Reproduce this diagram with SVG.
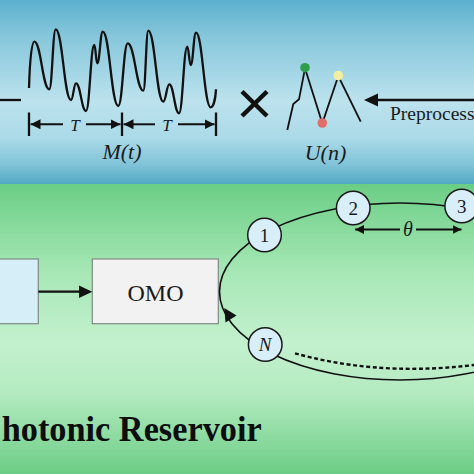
<svg xmlns="http://www.w3.org/2000/svg" width="474" height="474" viewBox="0 0 474 474">
<defs>
<linearGradient id="gBlue" x1="0" y1="0" x2="0" y2="1">
<stop offset="0" stop-color="#5cb0cd"/>
<stop offset="0.2" stop-color="#86c7db"/>
<stop offset="0.55" stop-color="#bce2ed"/>
<stop offset="0.75" stop-color="#abdae8"/>
<stop offset="0.9" stop-color="#7fc2d7"/>
<stop offset="1" stop-color="#52a9c4"/>
</linearGradient>
<linearGradient id="gGreen" x1="0" y1="0" x2="0" y2="1">
<stop offset="0" stop-color="#6bce85"/>
<stop offset="0.3" stop-color="#a6e7b5"/>
<stop offset="0.55" stop-color="#c3f1ce"/>
<stop offset="0.72" stop-color="#b4ebc0"/>
<stop offset="1" stop-color="#6ccd86"/>
</linearGradient>
<marker id="ah" viewBox="0 0 10 10" refX="10" refY="5" markerWidth="5" markerHeight="5" orient="auto-start-reverse" markerUnits="strokeWidth">
<path d="M0,0 L10,5 L0,10 Z" fill="#111"/>
</marker>
</defs>
<style>
.ln{fill:none;stroke:#111;stroke-width:2.3}
.thin{fill:none;stroke:#111;stroke-width:1.6}
.it{font-family:"Liberation Serif","Times New Roman",serif;font-style:italic;fill:#1a1a1a}
.rm{font-family:"Liberation Serif","Times New Roman",serif;fill:#1a1a1a}
.node circle{fill:#d8eef9;stroke:#1a1a1a;stroke-width:1.5}
.node text{font-family:"Liberation Serif","Times New Roman",serif;font-size:19px;fill:#1a1a1a;text-anchor:middle}
.box{stroke:#808a84;stroke-width:1.2}
</style>
<rect x="0" y="0" width="474" height="184" fill="url(#gBlue)"/>
<rect x="0" y="184" width="474" height="290" fill="url(#gGreen)"/>

<g id="input-line"><line class="ln" x1="0" y1="100" x2="21" y2="100"/></g>

<g id="waveform">
<path class="ln" d="M29,88 C30,55 32,41.7 34.3,41.7 C41.05,41.7 42.55,89.3 49.3,89.3 C52.18,89.3 52.82,29.3 55.7,29.3 C62.6,29.3 64.1,100 71,100 C73.25,100 73.75,83.3 76,83.3 C80.5,83.3 81.5,111 86,111 C89.7,111 90.6,45 94.3,45 C95.65,45 95.95,63.3 97.3,63.3 C99.7,63.3 100.3,31.7 102.7,31.7 C109.7,31.7 111.3,106 118.3,106 C122.5,106 123.5,43.3 127.7,43.3 C134.7,43.3 136.3,90.7 143.3,90.7 C145.55,90.7 146.05,30.7 148.3,30.7 C155,30.7 156.5,101.7 163.3,101.7 C166,101.7 166.6,84.3 169.3,84.3 C173.7,84.3 174.6,113.3 179,113.3 C182.7,113.3 183.6,46.7 187.3,46.7 C188.8,46.7 189.2,65 190.7,65 C193.1,65 193.6,32.7 196,32.7 C202.6,32.7 204.1,107.3 210.7,107.3 C213.5,107.3 215.5,98 216,89.3"/>
</g>

<g id="period-marks">
<line class="ln" x1="29" y1="112.5" x2="29" y2="136"/>
<line class="ln" x1="122" y1="112.5" x2="122" y2="136"/>
<line class="ln" x1="216" y1="112.5" x2="216" y2="136"/>
<line class="thin" x1="63" y1="124.3" x2="30.5" y2="124.3" marker-end="url(#ah)" style="stroke-width:2"/>
<line class="thin" x1="86" y1="124.3" x2="120.5" y2="124.3" marker-end="url(#ah)" style="stroke-width:2"/>
<line class="thin" x1="155" y1="124.3" x2="123.5" y2="124.3" marker-end="url(#ah)" style="stroke-width:2"/>
<line class="thin" x1="178" y1="124.3" x2="214.5" y2="124.3" marker-end="url(#ah)" style="stroke-width:2"/>
<text class="it" x="75" y="130.5" font-size="17" text-anchor="middle">T</text>
<text class="it" x="167" y="130.5" font-size="17" text-anchor="middle">T</text>
<text class="it" x="122" y="159" font-size="22" text-anchor="middle">M(t)</text>
</g>

<g id="times">
<line x1="242" y1="91.5" x2="267" y2="116" stroke="#111" stroke-width="4.5"/>
<line x1="242" y1="116" x2="267" y2="91.5" stroke="#111" stroke-width="4.5"/>
</g>

<g id="mask">
<polyline class="ln" points="287.3,130 293.3,104 299,99.3 305,68.3 322.3,123.3 338.3,76 360.7,121.7" style="stroke-width:1.8"/>
<circle cx="305" cy="67.7" r="4.8" fill="#2f9d4c"/>
<circle cx="338.3" cy="75.5" r="4.8" fill="#f3efa0"/>
<circle cx="322.3" cy="123" r="4.8" fill="#df6e6c"/>
<text class="it" x="325.5" y="160" font-size="22" text-anchor="middle">U(n)</text>
</g>

<g id="preprocess">
<line class="ln" x1="474" y1="100" x2="376" y2="100"/>
<path d="M364,100 L378,93.5 L378,106.5 Z" fill="#111"/>
<text class="rm" x="390" y="119.5" font-size="19.5">Preprocess</text>
</g>

<g id="input-box"><rect class="box" x="-2" y="259" width="40.3" height="64.7" fill="#d6eef8"/></g>

<g id="omo">
<rect class="box" x="92.3" y="259" width="126" height="64.7" fill="#f2f2f2"/>
<text class="rm" x="155.5" y="300.5" font-size="24" text-anchor="middle">OMO</text>
</g>

<g id="connectors">
<line class="ln" x1="38.3" y1="291.7" x2="80" y2="291.7"/>
<path d="M92.3,291.7 L79,285.5 L79,298 Z" fill="#111"/>
<ellipse cx="400" cy="291.5" rx="180.5" ry="88.5" fill="none" stroke="#111" stroke-width="1.6"/>
<path d="M224.3,308 L225.5,322.5 L236.5,315.5 Z" fill="#111"/>
<path d="M295,353.3 C340,366 400,374 474,365" fill="none" stroke="#111" stroke-width="2.4" stroke-dasharray="4 2.6"/>
<line class="thin" x1="400" y1="229.5" x2="355" y2="229.5" marker-end="url(#ah)" style="stroke-width:1.8"/>
<line class="thin" x1="416" y1="229.5" x2="461.5" y2="229.5" marker-end="url(#ah)" style="stroke-width:1.8"/>
<text class="it" x="408" y="236" font-size="20" text-anchor="middle">θ</text>
</g>

<g id="node1" class="node"><circle cx="264.5" cy="235" r="16.8"/><text x="264.5" y="241.5">1</text></g>
<g id="node2" class="node"><circle cx="353.2" cy="208" r="16.8"/><text x="353.2" y="214.5">2</text></g>
<g id="node3" class="node"><circle cx="461.7" cy="206" r="16.8"/><text x="461.7" y="212.5">3</text></g>
<g id="nodeN" class="node"><circle cx="265.2" cy="344.5" r="16.8"/><text x="265.2" y="351" font-style="italic">N</text></g>

<g id="title">
<text class="rm" x="1.7" y="441" font-size="36.7" font-weight="bold" textLength="260" lengthAdjust="spacingAndGlyphs" style="fill:#0d0d0d">hotonic Reservoir</text>
</g>
</svg>
